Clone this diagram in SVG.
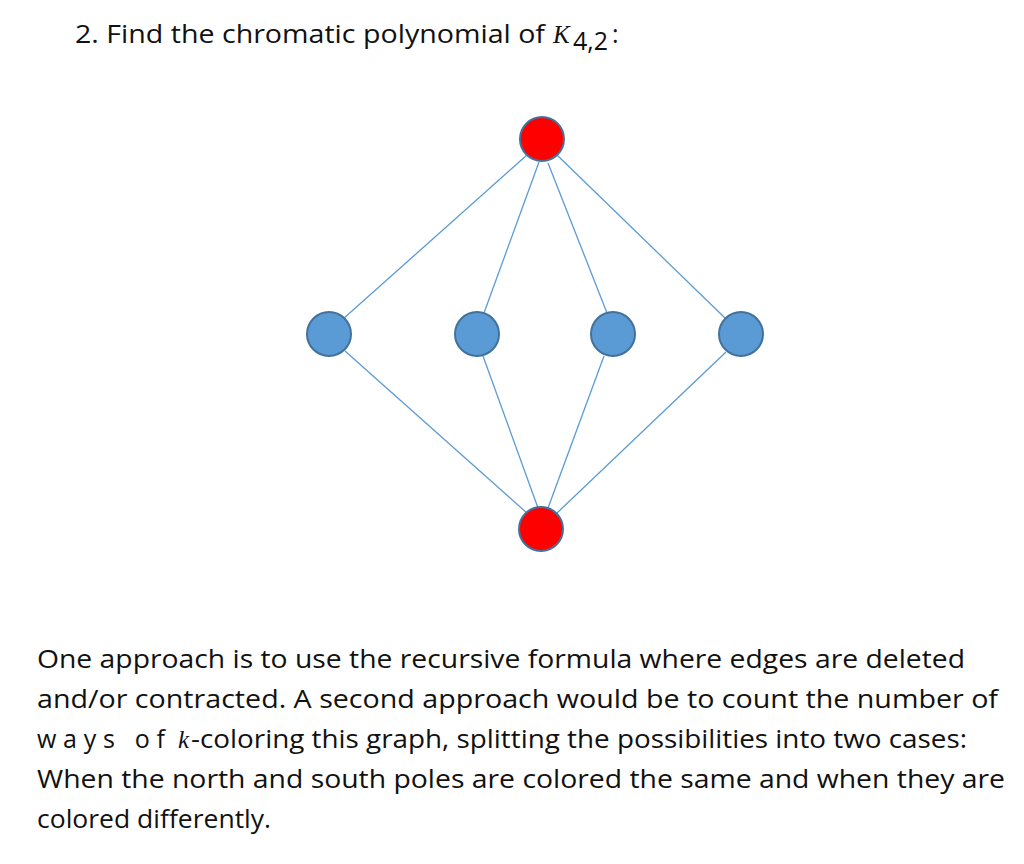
<svg xmlns="http://www.w3.org/2000/svg" width="1024" height="864" viewBox="0 0 1024 864">
<style>
text{font-family:"Open Sans","Liberation Sans",sans-serif;font-size:25px;fill:#111}
.m{font-family:"Liberation Serif",serif;font-style:italic}
.e{stroke:#5b9bd5;stroke-width:1.3;fill:none}
.r{fill:#ff0000;stroke:#41719c;stroke-width:2}
.b{fill:#5b9bd5;stroke:#41719c;stroke-width:2}
</style>
<rect width="1024" height="864" fill="#fff"/>
<text x="75" y="43" textLength="470" lengthAdjust="spacingAndGlyphs">2.  Find the chromatic polynomial of</text>
<text x="553" y="43" class="m" font-size="27">K</text>
<text x="573" y="50" font-size="17">4,2</text>
<text x="612" y="43">:</text>
<g id="edges">
<line class="e" x1="527" y1="155" x2="343" y2="319"/>
<line class="e" x1="539" y1="162" x2="484" y2="313"/>
<line class="e" x1="548" y1="163" x2="607" y2="313"/>
<line class="e" x1="557" y1="155" x2="725" y2="318"/>
<line class="e" x1="345" y1="351" x2="527" y2="513"/>
<line class="e" x1="483" y1="356" x2="538" y2="508"/>
<line class="e" x1="604" y1="356" x2="548" y2="508"/>
<line class="e" x1="726" y1="352" x2="557" y2="513"/>
</g>
<g id="north"><circle class="r" cx="542" cy="139" r="22"/></g>
<g id="v1"><circle class="b" cx="329" cy="334" r="22"/></g>
<g id="v2"><circle class="b" cx="477" cy="334" r="22"/></g>
<g id="v3"><circle class="b" cx="613" cy="334" r="22"/></g>
<g id="v4"><circle class="b" cx="741" cy="334" r="22"/></g>
<g id="south"><circle class="r" cx="541" cy="529" r="22"/></g>
<text x="37" y="668" textLength="928" lengthAdjust="spacingAndGlyphs">One approach is to use the recursive formula where edges are deleted</text>
<text x="37" y="708" textLength="961" lengthAdjust="spacingAndGlyphs">and/or contracted.  A second approach would be to count the number of</text>
<text x="37" y="748" textLength="128" lengthAdjust="spacing">ways of</text>
<text x="178" y="748" class="m" font-size="27">k</text>
<text x="191" y="748" textLength="776" lengthAdjust="spacingAndGlyphs">-coloring this graph, splitting the possibilities into two cases:</text>
<text x="37" y="788" textLength="968" lengthAdjust="spacingAndGlyphs">When the north and south poles are colored the same and when they are</text>
<text x="37" y="828" textLength="234" lengthAdjust="spacingAndGlyphs">colored differently.</text>
</svg>
